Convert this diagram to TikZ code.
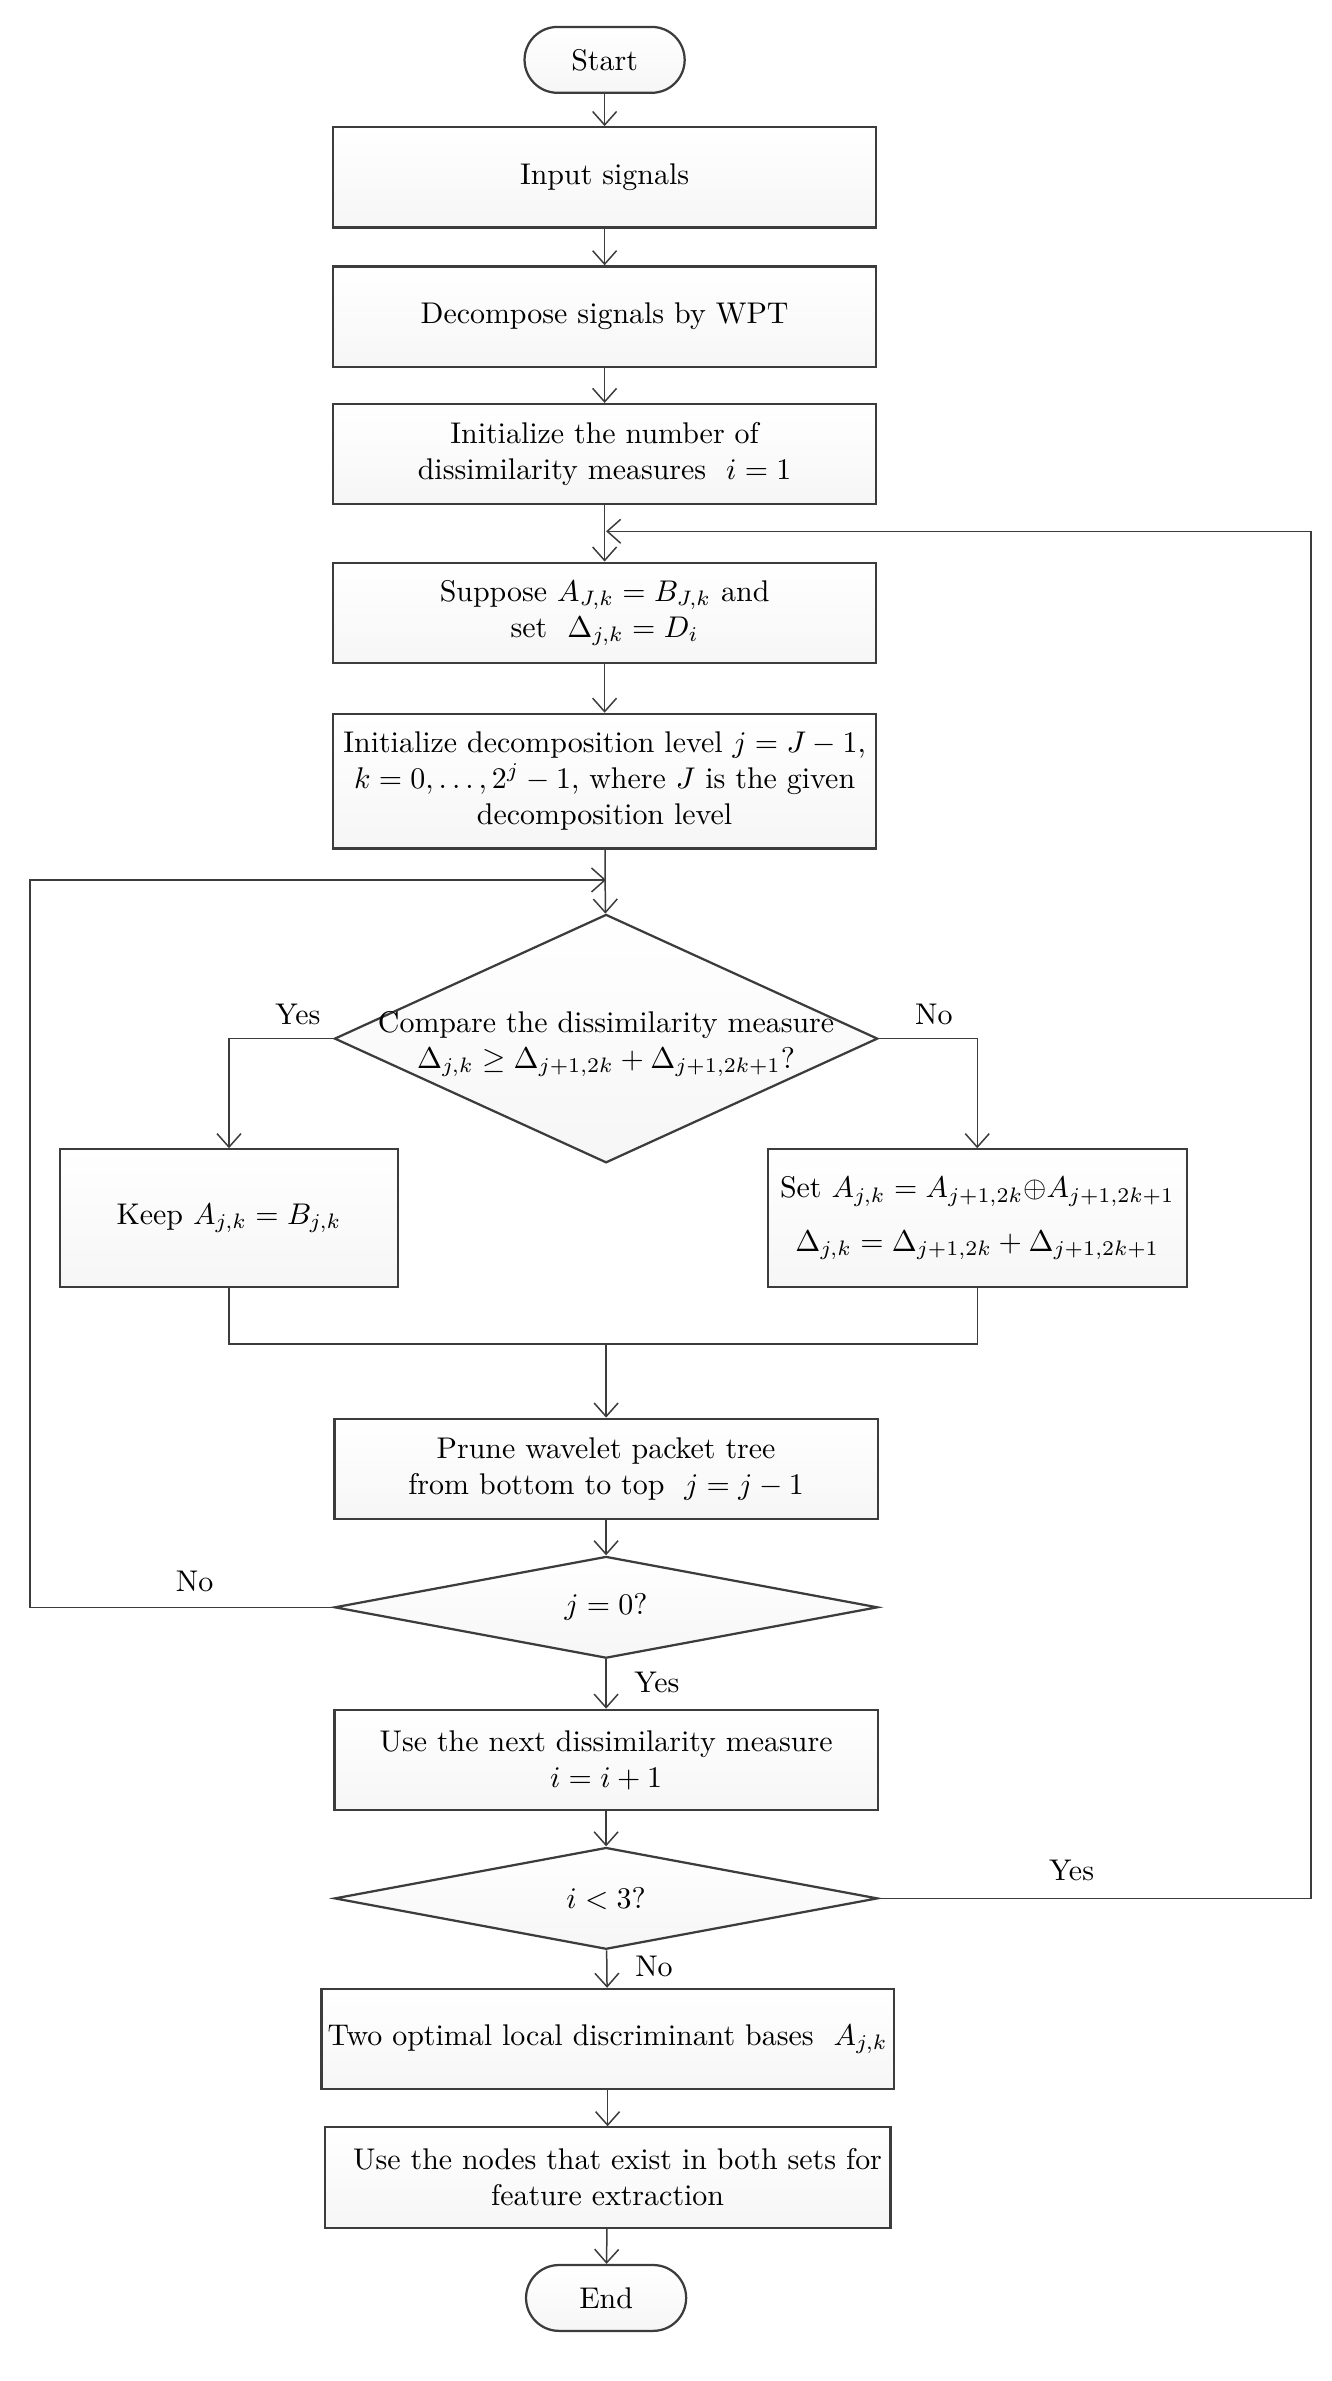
\documentclass[tikz,border=0pt]{standalone}
\usepackage{amsmath}
\usepackage{amssymb}
\usetikzlibrary{shapes.geometric}
\usetikzlibrary{arrows.meta}

\definecolor{linegray}{HTML}{3C3C3C}

\begin{document}
\begin{tikzpicture}[x=0.5pt,y=-0.5pt,
	box/.style={draw=linegray,line width=0.75pt,top color=white,bottom color=gray!7,minimum width=181.5pt,minimum height=33.5pt,inner sep=2pt,align=center},
	term/.style={box,rounded corners=11pt,minimum width=53.5pt,minimum height=22pt},
	decision/.style={draw=linegray,line width=0.75pt,diamond,top color=white,bottom color=gray!7,inner sep=0pt,minimum width=181.5pt,minimum height=34pt},
	flow/.style={draw=linegray,line width=0.5pt,-{Straight Barb[length=4.5pt,width=8pt]}},
	wire/.style={draw=linegray,line width=0.5pt}]
	\useasboundingbox (0,0) rectangle (890,1591);
	% main column
	\node[term] (start) at (404,40) {Start};
	\node[box] (input) at (404,118.5) {Input signals};
	\node[box] (wpt) at (404,211.5) {Decompose signals by WPT};
	\node[box] (initi) at (404,303.5) {Initialize the number of\\dissimilarity measures \ $i=1$};
	\node[box] (suppose) at (404,409.5) {Suppose $A_{J,k}=B_{J,k}$ and\\set \ $\Delta_{j,k}=D_i$};
	\node[box,minimum height=45pt] (initj) at (404,522) {Initialize decomposition level $j=J-1$,\\$k=0,\ldots,2^j-1$, where $J$ is the given\\decomposition level};
	\node[decision,minimum height=83pt] (cmp) at (405,694) {};
	\node (cmptxt) at (405,697) {\begin{tabular}{@{}c@{}}Compare the dissimilarity measure\\$\Delta_{j,k}\geq\Delta_{j+1,2k}+\Delta_{j+1,2k+1}$?\end{tabular}};
	\node[box,minimum width=113pt,minimum height=46pt] (keep) at (153,814) {Keep $A_{j,k}=B_{j,k}$};
	\node[box,minimum width=140pt,minimum height=46pt] (merge) at (653,814) {Set $A_{j,k}=A_{j+1,2k}{\oplus}A_{j+1,2k+1}$\\[6pt]$\Delta_{j,k}=\Delta_{j+1,2k}+\Delta_{j+1,2k+1}$};
	\node[box] (prune) at (405,981.5) {Prune wavelet packet tree\\from bottom to top \ $j=j-1$};
	\node[decision] (jzero) at (405,1074) {};
	\node (jzerotxt) at (405,1074) {$j=0$?};
	\node[box] (next) at (405,1176) {Use the next dissimilarity measure\\$i=i+1$};
	\node[decision] (ithree) at (405,1268.5) {};
	\node (ithreetxt) at (405,1268.5) {$i<3$?};
	\node[box,minimum width=189pt] (bases) at (406,1362.5) {Two optimal local discriminant bases \ $A_{j,k}$};
	\node[box,minimum width=189pt] (use) at (406,1455) {\ \ Use the nodes that exist in both sets for\\feature extraction};
	\node[term] (end) at (405,1535.5) {End};
	% junctions
	\coordinate (backi) at (405,355);
	\coordinate (backj) at (405,588);
	\coordinate (join) at (405,898);
	% straight arrows
	\draw[flow] (start) -- (input);
	\draw[flow] (input) -- (wpt);
	\draw[flow] (wpt) -- (initi);
	\draw[flow] (initi) -- (suppose);
	\draw[flow] (suppose) -- (initj);
	\draw[flow] (initj) -- (cmp);
	\draw[flow] (cmp.west) -| (keep.north);
	\draw[flow] (cmp.east) -| (merge.north);
	\draw[wire] (keep.south) |- (join) -| (merge.south);
	\draw[flow] (join) -- (prune);
	\draw[flow] (prune) -- (jzero);
	\draw[flow] (jzero) -- (next);
	\draw[flow] (next) -- (ithree);
	\draw[flow] (ithree) -- (bases);
	\draw[flow] (bases) -- (use);
	\draw[flow] (use) -- (end);
	% loops
	\draw[flow] (jzero.west) -- (20,1074) |- (backj);
	\draw[flow] (ithree.east) -- (876,1268.5) |- (backi);
	% labels
	\node at (199,678) {Yes};
	\node at (624,678) {No};
	\node at (130,1057) {No};
	\node at (439,1124) {Yes};
	\node at (716,1250) {Yes};
	\node at (437,1314) {No};
\end{tikzpicture}
\end{document}
